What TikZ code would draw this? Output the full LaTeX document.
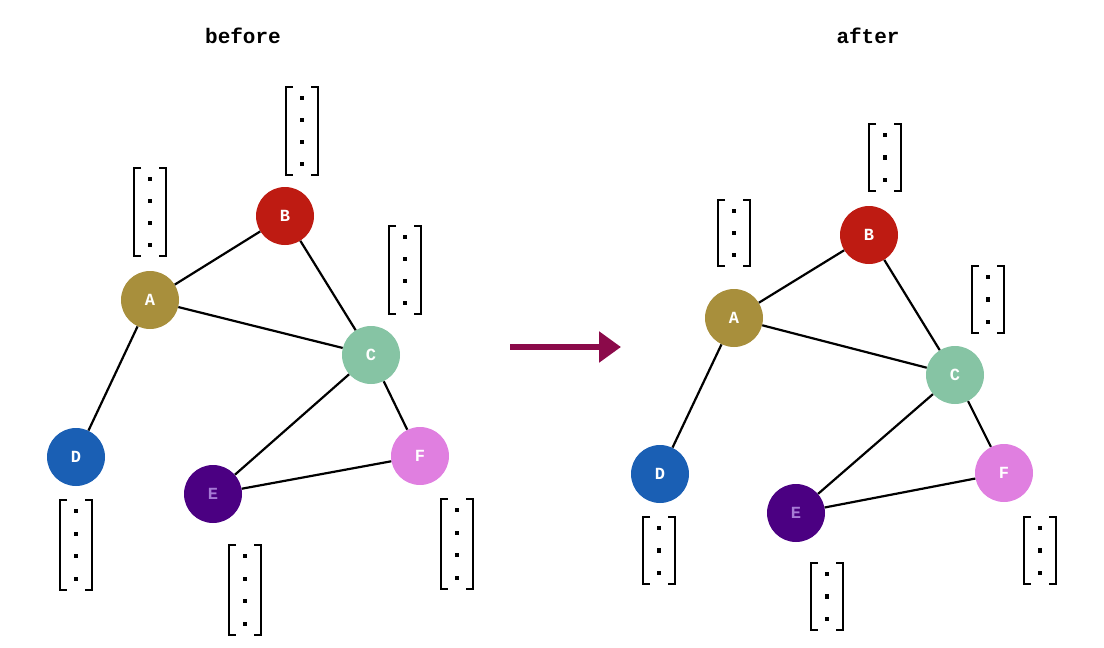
\documentclass[tikz,border=0pt]{standalone}
\usepackage{fontspec}
\setmonofont{Liberation Mono}
\usetikzlibrary{calc,arrows.meta}
\begin{document}
\begin{tikzpicture}[x=1pt,y=-1pt,
  nd/.style={circle,minimum size=58pt,inner sep=0pt,text=white,font=\ttfamily\bfseries\fontsize{17}{17}\selectfont},
  ed/.style={line width=2.2pt,black},
  title/.style={font=\ttfamily\bfseries\fontsize{21}{21}\selectfont}]
\definecolor{cA}{HTML}{A88F3C}\definecolor{cB}{HTML}{BE1B12}\definecolor{cC}{HTML}{86C4A4}
\definecolor{cD}{HTML}{1A5FB4}\definecolor{cE}{HTML}{4B0082}\definecolor{cF}{HTML}{E07FE0}
\definecolor{cEt}{HTML}{A77BD6}\definecolor{arr}{HTML}{8B0A4A}
\useasboundingbox (0,0) rectangle (1104,648);
\newcommand\colvec[4]{% x, top, bottom, n
  \draw[line width=2.2pt] (#1-9,#2) -- (#1-16,#2) -- (#1-16,#3) -- (#1-9,#3);
  \draw[line width=2.2pt] (#1+9,#2) -- (#1+16,#2) -- (#1+16,#3) -- (#1+9,#3);
  \pgfmathsetmacro\st{(#3-#2)/(#4)}
  \foreach \i in {1,...,#4}{\fill ({#1-2.2},{#2-\st/2+\i*\st-2.2}) rectangle ++(4.4,4.4);}
}
\node[title] (t1) at (243,36) {before};
\node[title] (t2) at (868,36) {after};
% left
\node[nd,fill=cA] (A) at (150,300) {A};
\node[nd,fill=cB] (B) at (285,216) {B};
\node[nd,fill=cC] (C) at (371,355) {C};
\node[nd,fill=cD] (D) at (76,457) {D};
\node[nd,fill=cE,text=cEt] (E) at (213,494) {E};
\node[nd,fill=cF] (F) at (420,456) {F};
\draw[ed] (A)--(B) (A)--(C) (B)--(C) (A)--(D) (C)--(E) (C)--(F) (E)--(F);
\colvec{302}{87}{175}{4}
\colvec{150}{168}{256}{4}
\colvec{405}{226}{314}{4}
\colvec{76}{500}{590}{4}
\colvec{245}{545}{635}{4}
\colvec{457}{499}{589}{4}
% arrow
\coordinate (p1) at (510,347);
\coordinate (p2) at (621,347);
\draw[arr,line width=6pt,-{Triangle[length=22pt,width=30pt]}] (p1) -- (p2);
% right
\node[nd,fill=cA] (A2) at (734,318) {A};
\node[nd,fill=cB] (B2) at (869,235) {B};
\node[nd,fill=cC] (C2) at (955,375) {C};
\node[nd,fill=cD] (D2) at (660,474) {D};
\node[nd,fill=cE,text=cEt] (E2) at (796,513) {E};
\node[nd,fill=cF] (F2) at (1004,473) {F};
\draw[ed] (A2)--(B2) (A2)--(C2) (B2)--(C2) (A2)--(D2) (C2)--(E2) (C2)--(F2) (E2)--(F2);
\colvec{885}{124}{191}{3}
\colvec{734}{200}{266}{3}
\colvec{988}{266}{333}{3}
\colvec{659}{517}{584}{3}
\colvec{827}{563}{630}{3}
\colvec{1040}{517}{584}{3}
\end{tikzpicture}
\end{document}
